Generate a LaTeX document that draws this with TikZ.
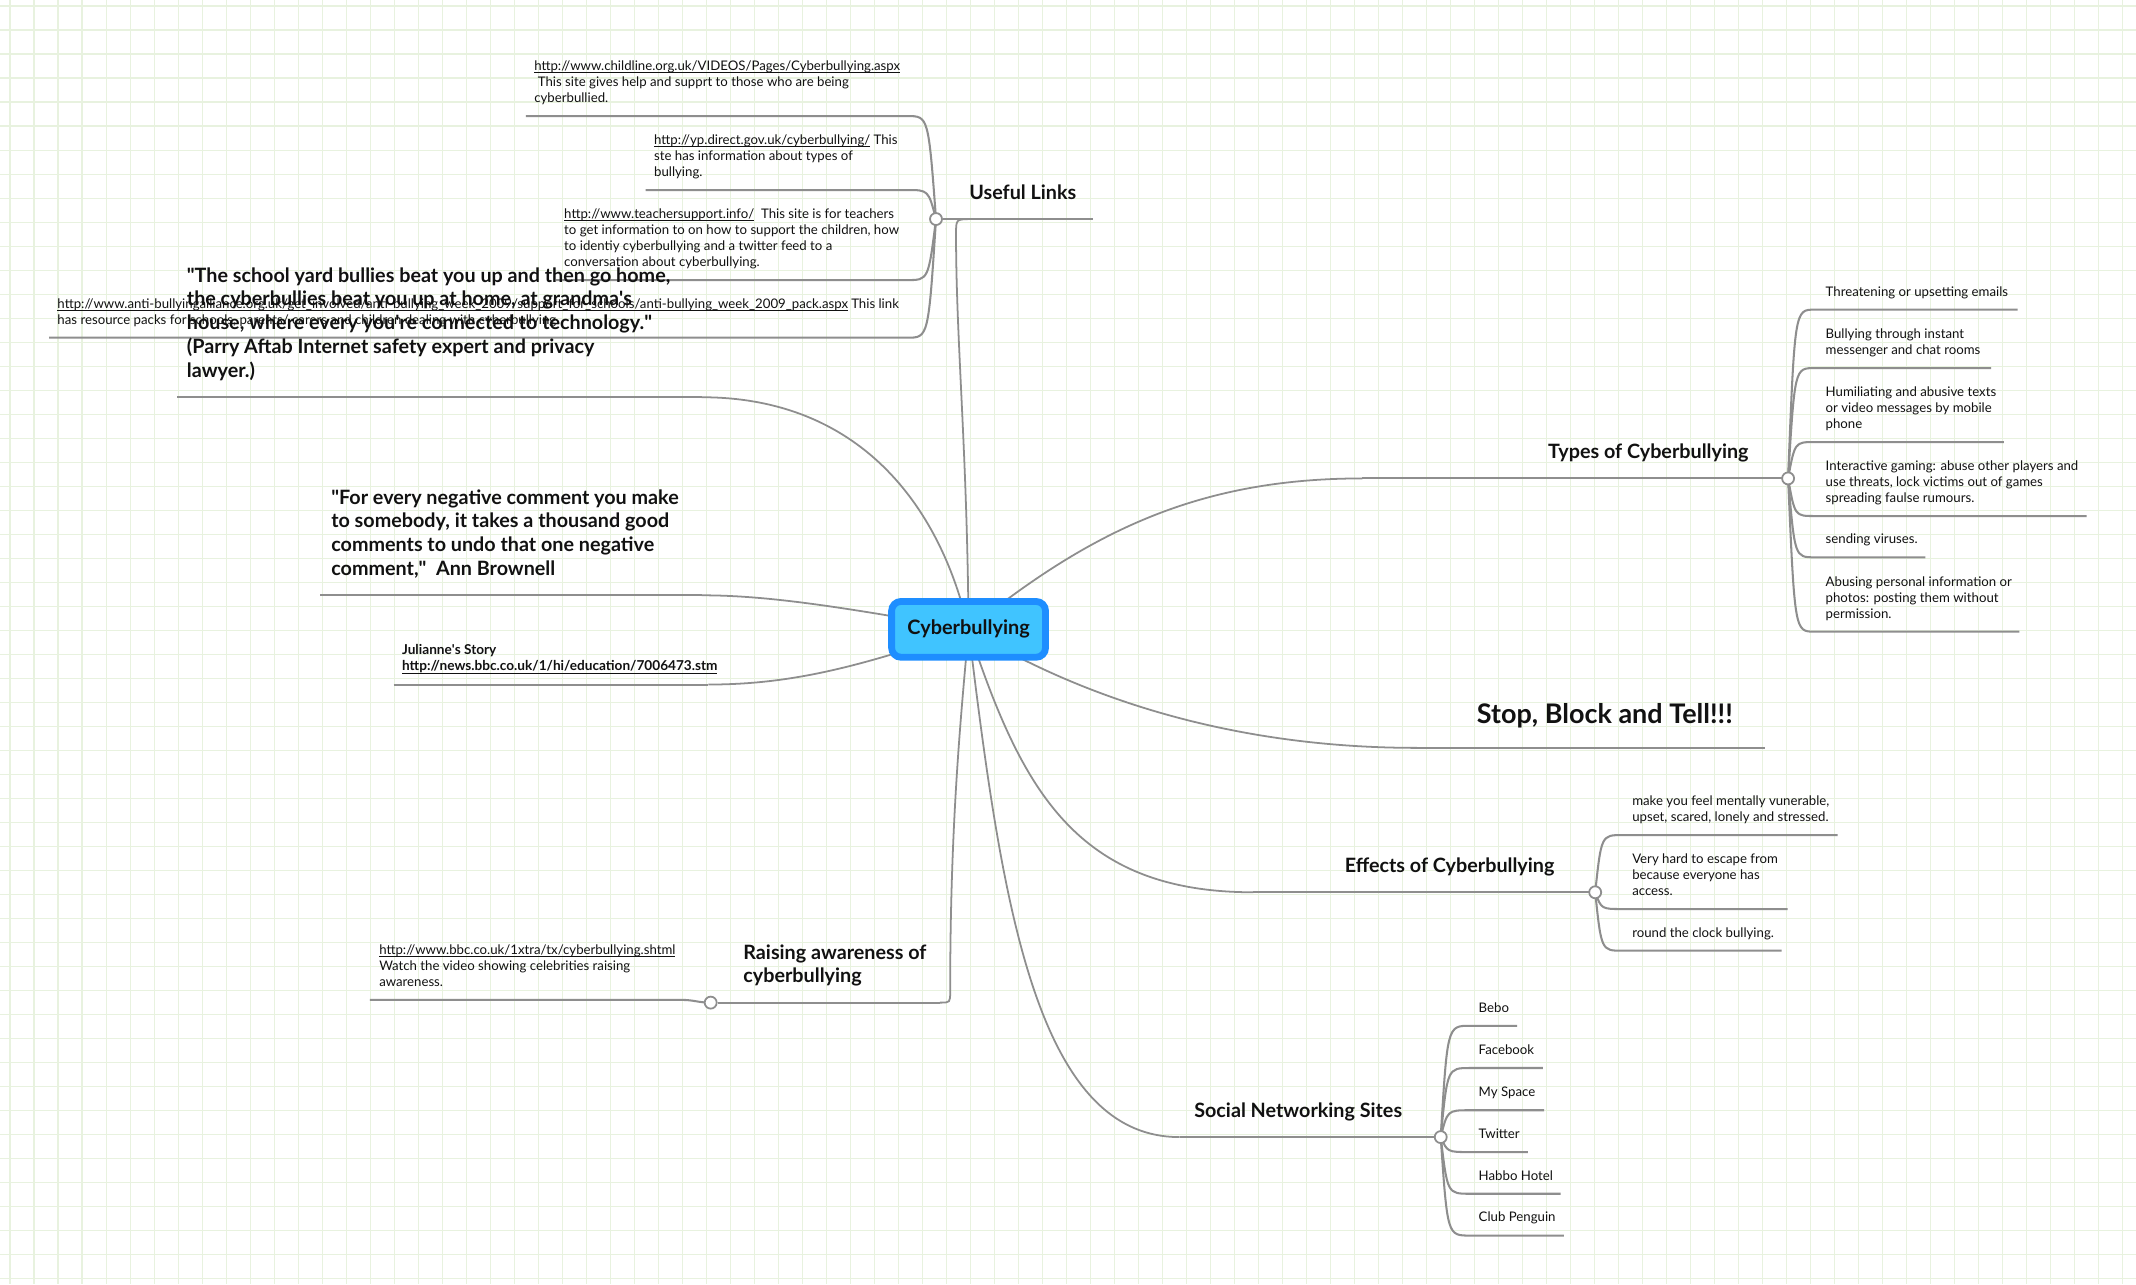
\documentclass[tikz,border=0pt]{standalone}
\usepackage{fontspec}
\setmainfont{Lato}
\pgfdeclarelayer{grid}
\pgfdeclarelayer{lines}
\pgfsetlayers{grid,lines,main}
\definecolor{gridc}{HTML}{E8F2DF}
\definecolor{linec}{HTML}{8E8E8E}
\definecolor{cbfill}{HTML}{40C4FF}
\definecolor{cbdraw}{HTML}{1E8EFF}
\definecolor{txt}{HTML}{111111}
\newcommand\lnk[1]{\underline{\smash{#1}}}
\newcommand\ap{\textquotesingle}
\newcommand\qq{\textquotedbl}
\begin{document}
\begin{tikzpicture}[x=1pt,y=-1pt,
  small/.style={font=\fontsize{9.7}{11.75}\selectfont,align=left,inner sep=0,anchor=base west,text=txt},
  smallb/.style={small,font=\bfseries\fontsize{10}{11.75}\selectfont},
  head/.style={font=\bfseries\fontsize{14.5}{17.5}\selectfont,align=left,inner sep=0,anchor=base west,text=txt},
  bighead/.style={head,font=\bfseries\fontsize{19.8}{22}\selectfont},
  conn/.style={draw=linec,line width=1.3pt},
  uline/.style={draw=linec,line width=1.5pt},
  knob/.style={circle,draw=linec,fill=white,line width=1.3pt,minimum size=8.8pt,inner sep=0},
  cbnode/.style={rounded corners=7pt,fill=cbfill,draw=cbdraw,line width=5pt,minimum width=113pt,minimum height=41pt,inner sep=0,font=\bfseries\fontsize{14.6}{16}\selectfont,text=txt}
]
\useasboundingbox (0,0) rectangle (1568,942.56);
\begin{pgfonlayer}{grid}
  \fill[white] (0,0) rectangle (1568,942.56);
  \foreach \i in {0,...,89} \draw[gridc,line width=0.75pt] (7.34+\i*17.62,0) -- (7.34+\i*17.62,942.56);
  \foreach \j in {0,...,53} \draw[gridc,line width=0.75pt] (0,4.4+\j*17.62) -- (1568,4.4+\j*17.62);
\end{pgfonlayer}

% central node
\node[cbnode] (cb) at (711,462) {Cyberbullying};

% knobs
\node[knob] (kUL) at (687.1,160.8) {};
\node[knob] (kRA) at (521.7,736) {};
\node[knob] (kTY) at (1312.6,351.2) {};
\node[knob] (kEF) at (1171,655) {};
\node[knob] (kSN) at (1057.6,834.7) {};

% labels (anchor = baseline of last line)
\node[head] (tUL) at (711.4,146.3) {Useful Links};
\node[head] (tQ1) at (137,277.1) {\qq The school yard bullies beat you up and then go home,\\the cyberbullies beat you up at home, at grandma\ap s\\house, where every you\ap re connected to technology.\qq\\(Parry Aftab Internet safety expert and privacy\\lawyer.)};
\node[head] (tQ2) at (243,422.5) {\qq For every negative comment you make\\to somebody, it takes a thousand good\\comments to undo that one negative\\comment,\qq\ \ Ann Brownell};
\node[smallb] (tJ) at (295,492.5) {Julianne\ap s Story\\\lnk{http://news.bbc.co.uk/1/hi/education/7006473.stm}};
\node[head] (tRA) at (545.5,721.5) {Raising awareness of\\cyberbullying};
\node[head] (tTY) at (1136.3,336.5) {Types of Cyberbullying};
\node[bighead] (tST) at (1084,531) {Stop, Block and Tell!!!};
\node[head] (tEF) at (987,640.5) {Effects of Cyberbullying};
\node[head] (tSN) at (876.5,820.5) {Social Networking Sites};

% Useful links children
\node[small] (ula) at (392,75.2) {\lnk{http://www.childline.org.uk/VIDEOS/Pages/Cyberbullying.aspx}\\\hspace*{2.6pt}This site gives help and supprt to those who are being\\cyberbullied.};
\node[small] (ulb) at (480,129.5) {\lnk{http://yp.direct.gov.uk/cyberbullying/} This\\ste has information about types of\\bullying.};
\node[small] (ulc) at (414,195.6) {\lnk{http://www.teachersupport.info/}\ \ This site is for teachers\\to get information to on how to support the children, how\\to identiy cyberbullying and a twitter feed to a\\conversation about cyberbullying.};
\node[small] (uld) at (42,237.9) {\lnk{http://www.anti-bullyingalliance.org.uk/get\_involved/anti-bullying\_week\_2009/support\_for\_schools/anti-bullying\_week\_2009\_pack.aspx} This link\\has resource packs for schools, parents/ carers and children dealing with cyberbullying.};

% Raising child
\node[small] (rac) at (278.2,724) {\lnk{http://www.bbc.co.uk/1xtra/tx/cyberbullying.shtml}\\Watch the video showing celebrities raising\\awareness.};

% Types children
\node[small] (ty1) at (1340,217.3) {Threatening or upsetting emails};
\node[small] (ty2) at (1340,260.2) {Bullying through instant\\messenger and chat rooms};
\node[small] (ty3) at (1340,314.5) {Humiliating and abusive texts\\or video messages by mobile\\phone};
\node[small] (ty4) at (1340,368.8) {Interactive gaming: abuse other players and\\use threats, lock victims out of games\\spreading faulse rumours.};
\node[small] (ty5) at (1340,399.1) {sending viruses.};
\node[small] (ty6) at (1340,453.7) {Abusing personal information or\\photos: posting them without\\permission.};

% Effects children
\node[small] (ef1) at (1198,603) {make you feel mentally vunerable,\\upset, scared, lonely and stressed.};
\node[small] (ef2) at (1198,657.3) {Very hard to escape from\\because everyone has\\access.};
\node[small] (ef3) at (1198,687.9) {round the clock bullying.};

% Social children
\node[small] (sn1) at (1085.3,743) {Bebo};
\node[small] (sn2) at (1085.3,774) {Facebook};
\node[small] (sn3) at (1085.3,805) {My Space};
\node[small] (sn4) at (1085.3,835.7) {Twitter};
\node[small] (sn5) at (1085.3,866.3) {Habbo Hotel};
\node[small] (sn6) at (1085.3,897) {Club Penguin};

\begin{pgfonlayer}{lines}
  % Useful Links
  \draw[uline] (kUL.east) -- (802.5,160.8);
  \draw[conn] (cb.center) .. controls (710,330) and (701.8,250) .. (701.8,172) .. controls (701.8,161) .. (712,160.8);
  \draw[uline] (kUL.center) .. controls (681.5,85.2) .. (666,85.2) -- (386,85.2);
  \draw[uline] (kUL.center) .. controls (681.5,139.5) .. (666,139.5) -- (474,139.5);
  \draw[uline] (kUL.center) .. controls (681.5,205.6) .. (666,205.6) -- (408,205.6);
  \draw[uline] (kUL.center) .. controls (681.5,247.9) .. (666,247.9) -- (36,247.9);
  % Quote 1
  \draw[uline] (130,291.6) -- (515,291.6);
  \draw[conn] (515,291.6) .. controls (630,291.6) and (690,370) .. (cb.center);
  % Quote 2
  \draw[uline] (235,437) -- (515,437);
  \draw[conn] (515,437) .. controls (565,437) and (620,446) .. (cb.center);
  % Julianne
  \draw[uline] (289,502.5) -- (520,502.5);
  \draw[conn] (520,502.5) .. controls (580,502.5) and (630,490) .. (cb.center);
  % Raising awareness
  \draw[uline] (kRA.east) -- (690,736);
  \draw[conn] (690,736) .. controls (697.5,736) .. (697.5,728) .. controls (697.5,600) and (706,520) .. (cb.center);
  \draw[uline] (271.6,734) -- (500,734) .. controls (510,734) and (512,736) .. (kRA.center);
  % Types
  \draw[conn] (cb.center) .. controls (800,390) and (880,351.2) .. (1000,351.2);
  \draw[uline] (1000,351.2) -- (kTY.center);
  \foreach \y/\e in {227.3/1481,270.2/1461.6,324.5/1471,378.8/1531.8,409.1/1413.3,463.7/1482.4}
    \draw[uline] (kTY.center) .. controls (1317.5,\y) .. (1332,\y) -- (\e,\y);
  % Stop
  \draw[conn] (cb.center) .. controls (790,510) and (900,549) .. (1040,549);
  \draw[uline] (1040,549) -- (1296,549);
  % Effects
  \draw[conn] (cb.center) .. controls (750,580) and (790,655) .. (920,655);
  \draw[uline] (920,655) -- (kEF.center);
  \foreach \y/\e in {613/1349,667.3/1312.3,697.9/1307.9}
    \draw[uline] (kEF.center) .. controls (1175.5,\y) .. (1191,\y) -- (\e,\y);
  % Social
  \draw[conn] (cb.center) .. controls (735,660) and (760,835) .. (866,834.7);
  \draw[uline] (866,834.7) -- (kSN.center);
  \foreach \y/\e in {753/1113.6,784/1132.5,815/1133.5,845.7/1121.5,876.3/1145.7,907/1148}
    \draw[uline] (kSN.center) .. controls (1062.5,\y) .. (1079,\y) -- (\e,\y);
\end{pgfonlayer}
\end{tikzpicture}
\end{document}
